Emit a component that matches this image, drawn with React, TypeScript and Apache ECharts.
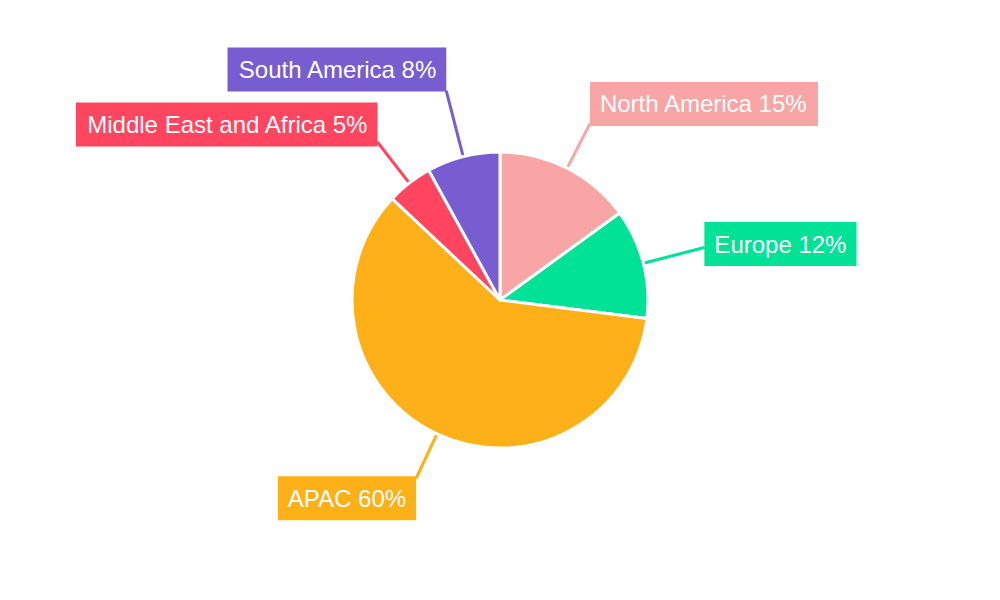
import React, { useEffect, useRef } from "react";
import * as echarts from "echarts";

const regions = ["North America", "Europe", "APAC", "Middle East and Africa", "South America"];
const shares = [15, 12, 60, 5, 8];
const colors = ["#F9A4A5", "#00E396", "#FEB019", "#FF4560", "#775DD0"];
const lineLengths = [50, 63, 49, 52, 68];

export default function App() {
  const ref = useRef<HTMLDivElement>(null);
  useEffect(() => {
    if (!ref.current) return;
    const chart = echarts.init(ref.current, null, { renderer: "svg" });
    chart.setOption({
      animation: false,
      backgroundColor: "#ffffff",
      series: [
        {
          type: "pie",
          center: [500, 300],
          radius: 148,
          startAngle: 90,
          clockwise: true,
          avoidLabelOverlap: false,
          itemStyle: { borderColor: "#ffffff", borderWidth: 3 },
          label: {
            show: true,
            position: "outside",
            formatter: (p: any) => `${p.name} ${p.value}%`,
            color: "#ffffff",
            fontSize: 24,
            fontFamily: "Liberation Sans, Arial, sans-serif",
            padding: [10, 10],
            lineHeight: 24,
          },
          labelLine: {
            show: true,
            length2: 0,
            lineStyle: { width: 3 },
          },
          labelLayout: (params: any) => {
            const pts = params.labelLinePoints;
            if (!pts) return {};
            const p1 = pts[0];
            const p2 = pts[1];
            const vx = p2[0] - p1[0];
            const vy = p2[1] - p1[1];
            const len = Math.hypot(vx, vy) || 1;
            const dx = vx / len;
            const dy = vy / len;
            const h = params.labelRect.height;
            return {
              x: p2[0],
              y: p2[1] + (dy * h) / 2 + (Math.abs(dy) < 0.5 ? 2 : 0),
              align: dx >= 0 ? "left" : "right",
              verticalAlign: "middle",
              labelLinePoints: [p1, p2, p2],
            };
          },
          data: regions.map((name, i) => ({
            name,
            value: shares[i],
            itemStyle: { color: colors[i] },
            label: { backgroundColor: colors[i] },
            labelLine: { length: lineLengths[i] },
          })),
        },
      ],
    });
    return () => chart.dispose();
  }, []);
  return (
    <div
      ref={ref}
      style={{ position: "fixed", left: 0, top: 0, width: 1000, height: 600 }}
    />
  );
}
